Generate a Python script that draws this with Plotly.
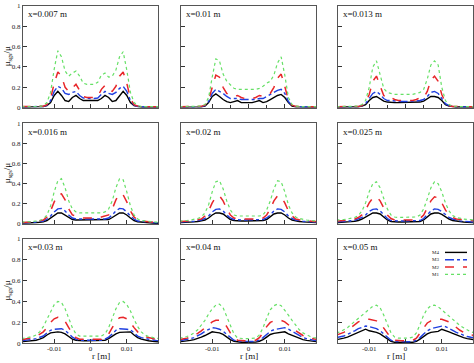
import plotly.graph_objects as go

# radial positions [m]
r = [round(-0.019 + 0.001 * i, 4) for i in range(39)]

panel_labels = ["x=0.007 m", "x=0.01 m", "x=0.013 m",
                "x=0.016 m", "x=0.02 m", "x=0.025 m",
                "x=0.03 m", "x=0.04 m", "x=0.05 m"]
series_names = ["M4", "M3", "M2", "M1"]

# ---- x = 0.007 m
m1_007 = [0.01,0.01,0.01,0.01,0.01,0.012,0.02,0.05,0.15,0.38,0.56,0.50,0.36,0.31,0.34,0.36,0.31,0.24,0.23,0.23,0.23,0.25,0.32,0.34,0.30,0.31,0.37,0.50,0.55,0.37,0.15,0.05,0.02,0.012,0.01,0.01,0.01,0.01,0.01]
m2_007 = [0.01,0.01,0.01,0.01,0.01,0.01,0.015,0.03,0.09,0.24,0.35,0.31,0.20,0.16,0.20,0.23,0.17,0.11,0.10,0.10,0.10,0.11,0.18,0.22,0.18,0.16,0.21,0.31,0.35,0.24,0.09,0.03,0.015,0.01,0.01,0.01,0.01,0.01,0.01]
m3_007 = [0.008,0.008,0.008,0.008,0.008,0.008,0.012,0.025,0.07,0.16,0.21,0.19,0.14,0.13,0.15,0.16,0.12,0.095,0.09,0.09,0.09,0.095,0.13,0.16,0.14,0.13,0.15,0.19,0.21,0.16,0.07,0.025,0.012,0.008,0.008,0.008,0.008,0.008,0.008]
m4_007 = [0.005,0.005,0.005,0.005,0.005,0.005,0.01,0.02,0.05,0.12,0.16,0.12,0.07,0.06,0.10,0.12,0.09,0.07,0.07,0.07,0.07,0.07,0.09,0.12,0.10,0.06,0.07,0.12,0.16,0.12,0.05,0.02,0.01,0.005,0.005,0.005,0.005,0.005,0.005]

# ---- x = 0.01 m
m1_010 = [0.01,0.01,0.01,0.01,0.01,0.01,0.015,0.03,0.10,0.30,0.48,0.46,0.33,0.26,0.22,0.19,0.18,0.18,0.18,0.18,0.18,0.18,0.19,0.21,0.24,0.26,0.32,0.44,0.50,0.32,0.10,0.03,0.015,0.01,0.01,0.01,0.01,0.01,0.01]
m2_010 = [0.01,0.01,0.01,0.01,0.01,0.01,0.013,0.025,0.07,0.20,0.32,0.30,0.20,0.14,0.12,0.11,0.12,0.10,0.09,0.09,0.09,0.10,0.12,0.11,0.12,0.14,0.20,0.29,0.33,0.21,0.07,0.025,0.013,0.01,0.01,0.01,0.01,0.01,0.01]
m3_010 = [0.008,0.008,0.008,0.008,0.008,0.008,0.01,0.02,0.06,0.14,0.18,0.16,0.14,0.11,0.09,0.09,0.09,0.08,0.08,0.08,0.08,0.08,0.09,0.09,0.11,0.13,0.15,0.17,0.18,0.14,0.06,0.02,0.01,0.008,0.008,0.008,0.008,0.008,0.008]
m4_010 = [0.005,0.005,0.005,0.005,0.005,0.005,0.008,0.015,0.05,0.11,0.135,0.11,0.08,0.06,0.05,0.06,0.07,0.05,0.05,0.05,0.05,0.06,0.07,0.05,0.06,0.08,0.10,0.12,0.13,0.10,0.05,0.015,0.008,0.005,0.005,0.005,0.005,0.005,0.005]

# ---- x = 0.013 m
m1_013 = [0.01,0.01,0.01,0.01,0.01,0.01,0.015,0.03,0.07,0.20,0.40,0.46,0.32,0.19,0.15,0.14,0.13,0.13,0.13,0.13,0.13,0.13,0.14,0.15,0.18,0.28,0.42,0.46,0.42,0.20,0.07,0.03,0.015,0.01,0.01,0.01,0.01,0.01,0.01]
m2_013 = [0.01,0.01,0.01,0.01,0.01,0.01,0.012,0.02,0.05,0.13,0.26,0.31,0.22,0.12,0.09,0.10,0.08,0.07,0.07,0.07,0.07,0.07,0.08,0.10,0.10,0.16,0.27,0.31,0.26,0.13,0.05,0.02,0.012,0.01,0.01,0.01,0.01,0.01,0.01]
m3_013 = [0.008,0.008,0.008,0.008,0.008,0.008,0.01,0.02,0.04,0.09,0.14,0.16,0.13,0.09,0.07,0.07,0.065,0.06,0.06,0.06,0.06,0.06,0.065,0.07,0.08,0.11,0.15,0.16,0.14,0.09,0.04,0.02,0.01,0.008,0.008,0.008,0.008,0.008,0.008]
m4_013 = [0.006,0.006,0.006,0.006,0.006,0.006,0.008,0.015,0.03,0.07,0.10,0.11,0.09,0.065,0.055,0.05,0.05,0.05,0.05,0.05,0.05,0.05,0.05,0.055,0.065,0.09,0.11,0.11,0.10,0.07,0.03,0.015,0.008,0.006,0.006,0.006,0.006,0.006,0.006]

# ---- x = 0.016 m
m1_016 = [0.02,0.02,0.02,0.025,0.03,0.035,0.05,0.09,0.18,0.32,0.43,0.45,0.36,0.23,0.15,0.12,0.11,0.11,0.11,0.11,0.11,0.11,0.11,0.12,0.15,0.23,0.36,0.45,0.44,0.32,0.18,0.09,0.05,0.035,0.03,0.025,0.02,0.02,0.02]
m2_016 = [0.015,0.015,0.018,0.02,0.025,0.03,0.04,0.07,0.13,0.22,0.29,0.30,0.24,0.15,0.09,0.08,0.07,0.06,0.06,0.06,0.06,0.06,0.07,0.08,0.09,0.15,0.24,0.30,0.29,0.22,0.13,0.07,0.04,0.03,0.025,0.02,0.018,0.015,0.015]
m3_016 = [0.012,0.012,0.014,0.016,0.02,0.025,0.03,0.05,0.08,0.12,0.15,0.155,0.13,0.09,0.06,0.05,0.05,0.05,0.05,0.05,0.05,0.05,0.05,0.05,0.06,0.09,0.13,0.155,0.15,0.12,0.08,0.05,0.03,0.025,0.02,0.016,0.014,0.012,0.012]
m4_016 = [0.008,0.008,0.01,0.012,0.015,0.018,0.022,0.035,0.06,0.09,0.11,0.11,0.09,0.065,0.045,0.04,0.04,0.04,0.04,0.04,0.04,0.04,0.04,0.04,0.045,0.065,0.09,0.11,0.11,0.09,0.06,0.035,0.022,0.018,0.015,0.012,0.01,0.008,0.008]

# ---- x = 0.02 m
m1_020 = [0.03,0.03,0.035,0.04,0.045,0.055,0.07,0.11,0.19,0.32,0.42,0.43,0.35,0.23,0.14,0.09,0.08,0.08,0.08,0.08,0.08,0.08,0.08,0.09,0.14,0.23,0.35,0.43,0.42,0.32,0.19,0.11,0.07,0.055,0.045,0.04,0.035,0.03,0.03]
m2_020 = [0.025,0.025,0.03,0.032,0.036,0.042,0.05,0.08,0.13,0.21,0.27,0.28,0.23,0.15,0.09,0.06,0.05,0.05,0.05,0.05,0.05,0.05,0.05,0.06,0.09,0.15,0.23,0.28,0.27,0.21,0.13,0.08,0.05,0.042,0.036,0.032,0.03,0.025,0.025]
m3_020 = [0.02,0.02,0.022,0.025,0.028,0.032,0.04,0.055,0.08,0.12,0.145,0.15,0.13,0.09,0.06,0.045,0.04,0.04,0.04,0.04,0.04,0.04,0.04,0.045,0.06,0.09,0.13,0.15,0.145,0.12,0.08,0.055,0.04,0.032,0.028,0.025,0.022,0.02,0.02]
m4_020 = [0.015,0.015,0.017,0.019,0.021,0.025,0.03,0.04,0.06,0.09,0.11,0.11,0.10,0.07,0.045,0.035,0.03,0.03,0.03,0.03,0.03,0.03,0.03,0.035,0.045,0.07,0.10,0.11,0.11,0.09,0.06,0.04,0.03,0.025,0.021,0.019,0.017,0.015,0.015]

# ---- x = 0.025 m
m1_025 = [0.04,0.04,0.045,0.05,0.055,0.065,0.085,0.13,0.21,0.32,0.40,0.42,0.36,0.25,0.15,0.09,0.07,0.065,0.065,0.065,0.065,0.065,0.07,0.09,0.15,0.25,0.36,0.42,0.40,0.32,0.21,0.13,0.085,0.065,0.055,0.05,0.045,0.04,0.04]
m2_025 = [0.03,0.03,0.035,0.04,0.045,0.05,0.065,0.09,0.14,0.21,0.26,0.27,0.23,0.16,0.09,0.055,0.04,0.04,0.04,0.04,0.04,0.04,0.04,0.055,0.09,0.16,0.23,0.27,0.26,0.21,0.14,0.09,0.065,0.05,0.045,0.04,0.035,0.03,0.03]
m3_025 = [0.02,0.022,0.025,0.028,0.032,0.038,0.05,0.065,0.09,0.125,0.145,0.15,0.13,0.09,0.055,0.035,0.03,0.03,0.03,0.03,0.03,0.03,0.03,0.035,0.055,0.09,0.13,0.15,0.145,0.125,0.09,0.065,0.05,0.038,0.032,0.028,0.025,0.022,0.02]
m4_025 = [0.015,0.016,0.018,0.02,0.024,0.028,0.035,0.05,0.07,0.095,0.11,0.11,0.10,0.07,0.04,0.025,0.02,0.02,0.02,0.02,0.02,0.02,0.02,0.025,0.04,0.07,0.10,0.11,0.11,0.095,0.07,0.05,0.035,0.028,0.024,0.02,0.018,0.016,0.015]

# ---- x = 0.03 m
m1_030 = [0.045,0.05,0.055,0.065,0.08,0.11,0.16,0.23,0.31,0.37,0.40,0.39,0.33,0.24,0.15,0.09,0.07,0.07,0.07,0.07,0.07,0.07,0.07,0.09,0.15,0.24,0.33,0.39,0.40,0.37,0.31,0.23,0.16,0.11,0.08,0.065,0.055,0.05,0.045]
m2_030 = [0.035,0.04,0.045,0.055,0.065,0.085,0.11,0.15,0.20,0.235,0.25,0.245,0.21,0.15,0.09,0.055,0.04,0.04,0.04,0.04,0.04,0.04,0.04,0.055,0.09,0.15,0.21,0.245,0.25,0.235,0.20,0.15,0.11,0.085,0.065,0.055,0.045,0.04,0.035]
m3_030 = [0.025,0.028,0.032,0.038,0.045,0.055,0.07,0.10,0.125,0.135,0.14,0.14,0.125,0.09,0.06,0.04,0.03,0.03,0.03,0.03,0.03,0.03,0.03,0.04,0.06,0.09,0.125,0.14,0.14,0.135,0.13,0.10,0.07,0.055,0.045,0.038,0.032,0.028,0.025]
m4_030 = [0.015,0.017,0.02,0.025,0.03,0.04,0.055,0.08,0.10,0.105,0.11,0.105,0.09,0.065,0.04,0.03,0.025,0.025,0.025,0.025,0.025,0.025,0.025,0.03,0.045,0.07,0.09,0.105,0.105,0.11,0.11,0.08,0.055,0.04,0.03,0.025,0.02,0.017,0.015]

# ---- x = 0.04 m
m1_040 = [0.05,0.055,0.065,0.08,0.10,0.13,0.17,0.22,0.28,0.33,0.365,0.375,0.34,0.26,0.17,0.09,0.05,0.045,0.045,0.045,0.045,0.05,0.08,0.15,0.24,0.32,0.36,0.375,0.36,0.32,0.27,0.22,0.17,0.13,0.10,0.08,0.065,0.055,0.05]
m2_040 = [0.035,0.04,0.05,0.06,0.075,0.095,0.12,0.15,0.18,0.205,0.22,0.22,0.205,0.16,0.10,0.055,0.03,0.025,0.025,0.025,0.025,0.03,0.055,0.10,0.16,0.20,0.215,0.22,0.22,0.205,0.18,0.15,0.12,0.095,0.075,0.06,0.05,0.04,0.035]
m3_040 = [0.025,0.03,0.035,0.045,0.055,0.07,0.09,0.115,0.135,0.15,0.145,0.135,0.115,0.085,0.055,0.03,0.02,0.018,0.018,0.018,0.018,0.02,0.03,0.055,0.085,0.115,0.13,0.135,0.14,0.15,0.135,0.115,0.09,0.07,0.055,0.045,0.035,0.03,0.025]
m4_040 = [0.015,0.018,0.022,0.028,0.035,0.045,0.06,0.075,0.09,0.11,0.105,0.10,0.085,0.06,0.035,0.02,0.012,0.01,0.01,0.01,0.01,0.012,0.02,0.035,0.06,0.085,0.095,0.10,0.105,0.11,0.09,0.075,0.06,0.045,0.035,0.028,0.022,0.018,0.015]

# ---- x = 0.05 m
m1_050 = [0.10,0.11,0.13,0.15,0.18,0.21,0.24,0.27,0.30,0.33,0.355,0.365,0.34,0.27,0.18,0.10,0.06,0.05,0.05,0.05,0.05,0.06,0.10,0.18,0.27,0.33,0.36,0.365,0.35,0.32,0.29,0.26,0.23,0.20,0.17,0.15,0.13,0.11,0.10]
m2_050 = [0.08,0.09,0.105,0.125,0.15,0.18,0.205,0.22,0.23,0.23,0.225,0.215,0.195,0.15,0.095,0.05,0.03,0.025,0.025,0.025,0.025,0.03,0.05,0.095,0.15,0.195,0.215,0.225,0.23,0.23,0.22,0.205,0.18,0.15,0.125,0.105,0.09,0.08,0.075]
m3_050 = [0.055,0.06,0.07,0.085,0.10,0.12,0.14,0.155,0.165,0.16,0.15,0.14,0.12,0.09,0.055,0.03,0.018,0.015,0.015,0.015,0.015,0.018,0.03,0.055,0.09,0.12,0.14,0.15,0.155,0.165,0.16,0.145,0.125,0.105,0.09,0.075,0.065,0.058,0.055]
m4_050 = [0.035,0.04,0.05,0.06,0.075,0.09,0.105,0.12,0.135,0.12,0.115,0.105,0.09,0.065,0.04,0.02,0.01,0.008,0.008,0.008,0.008,0.01,0.02,0.04,0.065,0.09,0.105,0.11,0.115,0.135,0.125,0.11,0.095,0.08,0.065,0.055,0.045,0.04,0.035]

panels = [
    [m4_007, m3_007, m2_007, m1_007],
    [m4_010, m3_010, m2_010, m1_010],
    [m4_013, m3_013, m2_013, m1_013],
    [m4_016, m3_016, m2_016, m1_016],
    [m4_020, m3_020, m2_020, m1_020],
    [m4_025, m3_025, m2_025, m1_025],
    [m4_030, m3_030, m2_030, m1_030],
    [m4_040, m3_040, m2_040, m1_040],
    [m4_050, m3_050, m2_050, m1_050],
]

x_ticks = [-0.01, 0, 0.01]
x_tick_text = ["-0.01", "0", "0.01"]
x_minor_ticks = [-0.005, 0.005]
y_ticks = [0, 0.2, 0.4, 0.6, 0.8, 1]
y_tick_text = ["0", "0.2", "0.4", "0.6", "0.8", "1"]

styles = [
    dict(color="#000000", width=1.4, dash="solid"),
    dict(color="#1f3fe0", width=1.4, dash="dashdot"),
    dict(color="#e8262a", width=1.5, dash="dash"),
    dict(color="#66e066", width=1.2, dash="dot"),
]

W, H = 474, 363
col_px = [(23, 158), (181, 316), (338, 473)]
row_px = [(2, 106), (122, 225), (240, 347)]
FONT = "Liberation Serif"

fig = go.Figure()
layout = dict(
    width=W, height=H, margin=dict(l=0, r=0, t=0, b=0),
    paper_bgcolor="white", plot_bgcolor="white", showlegend=False,
    font=dict(family=FONT, size=7, color="#222"),
)
annotations = []
shapes = []

for p in range(9):
    row, col = divmod(p, 3)
    idx = "" if p == 0 else str(p + 1)
    xa, ya = "x" + idx, "y" + idx
    for s in range(4):
        fig.add_trace(go.Scatter(x=r, y=panels[p][s], mode="lines",
                                 line=styles[s], name=series_names[s],
                                 xaxis=xa, yaxis=ya, showlegend=False))
    x0, x1 = col_px[col]
    y0, y1 = row_px[row]
    layout["xaxis" + idx] = dict(
        domain=[x0 / W, x1 / W], range=[-0.0186, 0.0186], anchor=ya,
        tickvals=x_ticks, ticktext=x_tick_text, showticklabels=(row == 2),
        ticklabelstandoff=-2,
        ticks="inside", ticklen=4, tickcolor="#333", showgrid=False,
        minor=dict(tickvals=x_minor_ticks, ticks="inside", ticklen=3,
                   tickcolor="#333", showgrid=False),
        zeroline=False, showline=True, linecolor="#555", linewidth=1,
        mirror=True, tickfont=dict(size=7, family=FONT),
    )
    layout["yaxis" + idx] = dict(
        domain=[1 - y1 / H, 1 - y0 / H], range=[0, 1], anchor=xa,
        tickvals=y_ticks, ticktext=y_tick_text, showticklabels=(col == 0),
        ticks="inside", ticklen=4, tickcolor="#333", showgrid=False,
        zeroline=False, showline=True, linecolor="#555", linewidth=1,
        mirror=True, tickfont=dict(size=7, family=FONT),
    )
    annotations.append(dict(
        text=panel_labels[p], xref="x" + idx + " domain", yref="y" + idx + " domain",
        x=0.02, y=0.985, xanchor="left", yanchor="top", showarrow=False,
        font=dict(size=9, family=FONT, color="#111"),
    ))
    if col == 0:
        annotations.append(dict(
            text="μ<sub>sgs</sub>/μ", xref="paper", yref="paper",
            x=0, y=1 - (y0 + y1) / 2 / H, xanchor="left", yanchor="middle",
            textangle=-90, showarrow=False, font=dict(size=9, family=FONT, color="#111"),
        ))

# "r [m]" under each column
for c in range(3):
    annotations.append(dict(
        text="r [m]", xref="paper", yref="paper", x=(col_px[c][0] + col_px[c][1]) / 2 / W,
        y=1 - 359.8 / H, yanchor="middle", showarrow=False, borderpad=0,
        font=dict(size=9, family=FONT, color="#111"),
    ))

# legend in the last panel (labels left, line samples right)
leg_y = [254, 261.5, 269, 276.5]
for s in range(4):
    yy = 1 - leg_y[s] / H
    annotations.append(dict(
        text=series_names[s], xref="paper", yref="paper", x=441 / W, y=yy,
        xanchor="right", yanchor="middle", showarrow=False,
        font=dict(size=5, family=FONT, color="#222"),
    ))
    shapes.append(dict(
        type="line", xref="paper", yref="paper", x0=445 / W, x1=467 / W, y0=yy, y1=yy,
        line=styles[s],
    ))

layout["annotations"] = annotations
layout["shapes"] = shapes
fig.update_layout(**layout)
fig.write_html(
    "out.html",
    config={"displayModeBar": False},
    post_script="document.body.style.margin='0';document.body.style.overflow='hidden';",
)
